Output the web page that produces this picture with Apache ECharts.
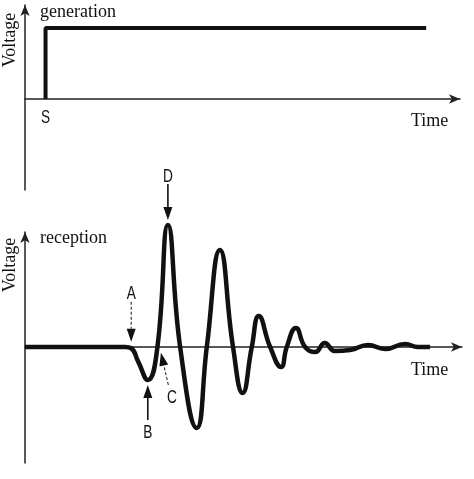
<!DOCTYPE html>
<html><head><meta charset="utf-8">
<script src="https://cdn.jsdelivr.net/npm/echarts@6/dist/echarts.min.js"></script>
<style>html,body{margin:0;padding:0;background:#fff}#c{width:474px;height:479px}</style>
</head><body><div id="c"></div>
<script>
// generation pulse (time, voltage)
const genTime = [4.7, 4.7, 91.8];
const genVolt = [0, 1, 1];
// reception waveform (time, voltage)
const recTime = [0, 22.9, 24.3, 25.9, 28.1, 30.3, 32.7, 35.5, 39.3, 41.6, 44.6, 47.6, 49.8, 51.9, 53.5, 56.1, 58.6, 59.9, 62.0, 64.1, 66.4, 68.6, 70.9, 74.4, 78.5, 82.4, 87.0, 89.9, 92.7];
const recVolt = [0, 0, -0.01, -0.12, -0.27, 0, 1.0, 0, -0.664, 0, 0.795, 0, -0.377, 0, 0.254, 0, -0.164, 0, 0.156, 0, -0.041, 0.033, -0.033, -0.025, 0.016, -0.016, 0.025, 0, 0];
// annotations on the reception trace
const annLabels = ['A', 'B', 'C', 'D'];
const annTip = [[24.3, 0.043], [28.1, -0.311], [31.1, -0.047], [32.7, 1.041]];
const annTail = [[24.3, 0.371], [28.1, -0.598], [32.8, -0.311], [32.7, 1.336]];
const annText = [[24.3, 0.434], [28.1, -0.705], [33.6, -0.418], [32.7, 1.393]];
const annDashed = [true, false, true, false];

const chart = echarts.init(document.getElementById('c'), null, {renderer: 'canvas'});
const axLine = {color: '#222', width: 1.5};
function xAx(g) {
  return {gridIndex: g, type: 'value', min: 0, max: 100,
    axisLine: {show: true, onZero: true, symbol: ['none', 'arrow'], symbolSize: [7, 11], lineStyle: axLine},
    axisTick: {show: false}, axisLabel: {show: false}, splitLine: {show: false}};
}
function yAx(g, mn, mx) {
  return {gridIndex: g, type: 'value', min: mn, max: mx,
    axisLine: {show: true, onZero: false, symbol: ['none', 'arrow'], symbolSize: [7, 11], lineStyle: axLine},
    axisTick: {show: false}, axisLabel: {show: false}, splitLine: {show: false}};
}
const option = {
  animation: false,
  grid: [{left: 25, top: 5, width: 435, height: 185}, {left: 25, top: 232, width: 437, height: 231}],
  xAxis: [xAx(0), xAx(1)],
  yAxis: [yAx(0, -1.282, 1.324), yAx(1, -0.951, 0.943)],
  series: [
    {type: 'line', xAxisIndex: 0, yAxisIndex: 0, data: genTime.map((t, i) => [t * 437 / 435, genVolt[i]]),
     symbol: 'none', lineStyle: {color: '#111', width: 4}, clip: false},
    {type: 'line', xAxisIndex: 1, yAxisIndex: 1, data: recTime.map((t, i) => [t, recVolt[i]]),
     symbol: 'none', smooth: 0.5, lineStyle: {color: '#111', width: 4.5}, clip: false}
  ]
};
chart.setOption(option);

const serif = '18px "Liberation Serif", "DejaVu Serif", serif';
const sans = '19px "Liberation Sans", sans-serif';
const els = [];
function txt(x, y, s, font, align, rot, sx) {
  els.push({type: 'text', x: x, y: y, rotation: rot || 0, scaleX: sx || 1,
    style: {text: s, x: 0, y: 0, font: font, fill: '#111', textAlign: align || 'center', textVerticalAlign: 'middle'}});
}
txt(10, 40, 'Voltage', serif, 'center', Math.PI / 2);
txt(10, 265, 'Voltage', serif, 'center', Math.PI / 2);
txt(40, 12, 'generation', serif, 'left');
txt(40, 238, 'reception', serif, 'left');
txt(411, 121, 'Time', serif, 'left');
txt(411, 370, 'Time', serif, 'left');
const sPt = chart.convertToPixel({gridIndex: 0}, [genTime[0] * 437 / 435, 0]);
txt(sPt[0], sPt[1] + 19, 'S', sans, 'center', 0, 0.72);

for (let i = 0; i < annLabels.length; i++) {
  const tip = chart.convertToPixel({gridIndex: 1}, annTip[i]);
  const tail = chart.convertToPixel({gridIndex: 1}, annTail[i]);
  const tp = chart.convertToPixel({gridIndex: 1}, annText[i]);
  const dx = tip[0] - tail[0], dy = tip[1] - tail[1];
  const L = Math.sqrt(dx * dx + dy * dy), ux = dx / L, uy = dy / L;
  const hl = 13, hw = 4.5;
  const bx = tip[0] - ux * hl, by = tip[1] - uy * hl;
  els.push({type: 'line', shape: {x1: tail[0], y1: tail[1], x2: bx, y2: by},
    style: {stroke: '#111', lineWidth: annDashed[i] ? 1 : 1.6, lineDash: annDashed[i] ? [3, 2] : null}});
  els.push({type: 'polygon', shape: {points: [[tip[0], tip[1]], [bx - uy * hw, by + ux * hw], [bx + uy * hw, by - ux * hw]]},
    style: {fill: '#111'}});
  txt(tp[0], tp[1], annLabels[i], sans, 'center', 0, 0.72);
}
chart.setOption({graphic: {elements: els}});
</script></body></html>
